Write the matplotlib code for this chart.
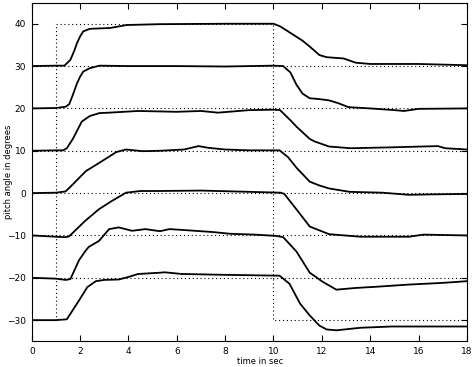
import numpy as np
import matplotlib.pyplot as plt

# niveis de partida de cada ensaio (graus) e instantes do degrau de referencia
base_levels = [30, 20, 10, 0, -10, -20, -30]
step_size = 10
t_on = 1.0
t_off = 10.0
t_end = 18.0

t_a = [0, 1.0, 1.35, 1.6, 1.75, 1.87, 2.0, 2.13, 2.4, 3.24, 3.93, 5.3, 8.0, 10.0, 10.27, 10.6, 11.2, 11.5, 11.9, 12.2, 12.9, 13.4, 14.0, 16.0, 18.0]
y_a = [30, 30.1, 30.1, 31.5, 33.5, 35.4, 37.0, 38.2, 38.8, 39.0, 39.7, 39.9, 40.0, 40.0, 39.4, 38.2, 36.0, 34.6, 32.6, 32.1, 31.8, 30.8, 30.5, 30.5, 30.2]

t_b = [0, 1.0, 1.4, 1.55, 1.7, 1.87, 2.0, 2.13, 2.4, 2.8, 4.0, 6.0, 8.0, 10.0, 10.4, 10.7, 10.95, 11.2, 11.5, 11.9, 12.3, 12.7, 13.1, 14.0, 15.0, 15.4, 16.0, 18.0]
y_b = [20, 20.1, 20.4, 21.0, 23.2, 25.9, 27.5, 28.7, 29.5, 30.1, 30.0, 30.0, 29.9, 30.1, 30.0, 28.5, 25.6, 23.5, 22.4, 22.2, 21.9, 21.2, 20.3, 20.0, 19.6, 19.4, 19.9, 20.0]

t_c = [0, 1.0, 1.3, 1.45, 1.7, 2.07, 2.4, 2.8, 3.2, 4.4, 6.0, 7.0, 7.7, 9.0, 10.0, 10.27, 10.7, 10.95, 11.5, 11.7, 12.3, 13.2, 14.8, 16.8, 17.1, 18.0]
y_c = [10, 10.1, 10.1, 10.6, 12.8, 16.9, 18.2, 18.9, 19.0, 19.4, 19.2, 19.4, 19.0, 19.6, 19.7, 19.6, 17.2, 15.7, 12.8, 12.2, 11.0, 10.6, 10.8, 11.1, 10.6, 10.3]

t_d = [0, 1.0, 1.4, 1.6, 2.24, 2.78, 3.5, 3.9, 4.6, 5.3, 6.3, 6.9, 7.3, 8.0, 9.0, 10.25, 10.6, 10.95, 11.5, 11.9, 12.3, 13.15, 14.5, 15.6, 16.5, 18.0]
y_d = [0, 0.1, 0.4, 1.5, 5.2, 7.1, 9.7, 10.3, 9.9, 10.0, 10.3, 11.1, 10.7, 10.3, 10.1, 10.1, 8.5, 6.0, 2.7, 1.8, 1.1, 0.3, 0.1, -0.4, -0.3, -0.2]

t_e = [0, 1.0, 1.4, 1.55, 2.2, 2.78, 3.3, 3.9, 4.5, 5.3, 7.0, 9.0, 10.3, 10.45, 11.0, 11.5, 12.3, 13.6, 15.6, 16.2, 18.0]
y_e = [-10, -10.3, -10.4, -10.2, -6.6, -3.8, -1.9, 0.1, 0.5, 0.5, 0.6, 0.3, 0.1, -0.2, -4.2, -7.9, -9.7, -10.3, -10.3, -9.8, -10.0]

t_f = [0, 1.0, 1.4, 1.6, 1.95, 2.24, 2.36, 2.78, 3.2, 3.6, 4.15, 4.7, 5.3, 5.7, 6.5, 7.5, 8.2, 9.2, 10.1, 10.4, 10.66, 10.95, 11.5, 12.05, 12.6, 13.4, 14.3, 15.6, 17.0, 18.0]
y_f = [-20, -20.2, -20.5, -20.3, -15.9, -13.5, -12.7, -11.3, -8.5, -8.1, -8.9, -8.5, -9.0, -8.5, -8.8, -9.2, -9.6, -9.8, -10.1, -10.4, -12.0, -13.8, -18.8, -21.0, -22.8, -22.4, -22.1, -21.6, -21.2, -20.8]

t_g = [0, 1.0, 1.45, 1.95, 2.3, 2.65, 3.0, 3.6, 4.0, 4.4, 5.3, 5.5, 6.2, 8.0, 10.25, 10.66, 11.1, 11.5, 11.9, 12.2, 12.6, 13.6, 14.9, 18.0]
y_g = [-30, -30.0, -29.8, -25.4, -22.2, -20.8, -20.5, -20.4, -19.8, -19.1, -18.8, -18.7, -19.1, -19.3, -19.5, -21.4, -26.1, -28.9, -31.3, -32.2, -32.4, -31.8, -31.5, -31.5]

responses = [(t_a, y_a), (t_b, y_b), (t_c, y_c), (t_d, y_d), (t_e, y_e), (t_f, y_f), (t_g, y_g)]

fig = plt.figure(figsize=(4.74, 3.67), dpi=100)
ax = fig.add_axes([0.067, 0.07, 0.918, 0.923])

# degraus de referencia (pontilhados)
for b in base_levels:
    t_ref = [0, t_on, t_on, t_off, t_off, t_end]
    y_ref = [b, b, b + step_size, b + step_size, b, b]
    ax.plot(t_ref, y_ref, color='black', lw=0.8, linestyle=(0, (1, 2.5)))

# respostas
for t, y in responses:
    ax.plot(t, y, color='black', lw=1.3)

ax.set_xlim(0, 18)
ax.set_ylim(-35, 45)
ax.set_xticks(np.arange(0, 19, 2))
ax.set_yticks(np.arange(-30, 41, 10))
ax.tick_params(direction='in', top=True, right=True, length=4, width=0.8, labelsize=6.5, pad=4)
for s in ax.spines.values():
    s.set_linewidth(0.8)

ax.set_xlabel('time in sec', fontsize=6)
ax.set_ylabel('pitch angle in degrees', fontsize=6)
ax.xaxis.set_label_coords(0.525, -0.047)
ax.yaxis.set_label_coords(-0.044, 0.5)

plt.savefig('out.png', dpi=100)
